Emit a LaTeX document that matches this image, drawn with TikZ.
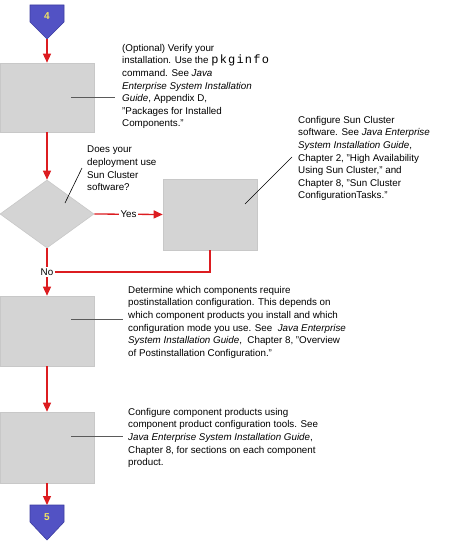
\documentclass[tikz,border=0pt]{standalone}
\usepackage{fontspec}
\setmainfont{Liberation Sans}
\setmonofont{Liberation Mono}
\usetikzlibrary{shapes.geometric,arrows.meta}
\definecolor{flowred}{RGB}{220,28,32}
\definecolor{boxgray}{RGB}{212,212,212}
\definecolor{boxedge}{RGB}{200,200,200}
\definecolor{penblue}{RGB}{82,82,196}
\definecolor{penedge}{RGB}{60,60,160}
\definecolor{numyellow}{RGB}{240,226,100}
\definecolor{leadgray}{RGB}{90,90,90}
\newcommand{\cmdname}[1]{{\fontsize{12}{12}\ttfamily\addfontfeature{LetterSpace=10}#1}}
\tikzset{
  flow/.style={draw=flowred, line width=1.3pt},
  flowarrow/.style={flow, -{Triangle[length=9pt,width=8pt]}},
  grbox/.style={draw=boxedge, fill=boxgray, line width=0.6pt, minimum width=94pt, inner sep=0pt},
  decision/.style={diamond, draw=boxedge, fill=boxgray, line width=0.6pt, minimum width=94pt, minimum height=68pt, inner sep=0pt},
  pent/.style={draw=penedge, fill=penblue, line width=0.6pt},
  num/.style={font=\fontsize{10}{12}\selectfont\bfseries, text=numyellow, inner sep=0pt},
  txt/.style={anchor=north west, align=left, inner sep=0pt, font=\fontsize{9.8}{12.6}\selectfont, execute at begin node=\strut},
  leader/.style={draw=leadgray, line width=0.8pt},
  dleader/.style={draw=black, line width=0.6pt},
  lbl/.style={fill=white, inner sep=1.5pt, font=\fontsize{9.8}{12}\selectfont}
}
\begin{document}
\begin{tikzpicture}[x=1pt,y=-1pt]
\useasboundingbox (0,0) rectangle (474,543);
% pentagon 4
\draw[pent] (30,5) -- (64,5) -- (64,22) -- (47,39) -- (30,22) -- cycle;
\node[num] (p4) at (47,16) {4};
\coordinate (p4tip) at (47,39);
% boxes
\node[grbox, minimum height=69pt] (b1) at (47,97.5) {};
\node[decision] (d) at (47,214) {};
\node[grbox, minimum height=71pt] (b2) at (210,214.5) {};
\node[grbox, minimum height=70pt] (b3) at (47,331) {};
\node[grbox, minimum height=71pt] (b4) at (47,447.5) {};
% pentagon 5
\draw[pent] (30,505) -- (64,505) -- (64,522) -- (47,540) -- (30,522) -- cycle;
\node[num] (p5) at (47,517) {5};
\coordinate (p5top) at (47,505);
% flow
\draw[flowarrow] (p4tip) -- (b1.north);
\draw[flowarrow] (b1.south) -- (d.north);
\draw[flowarrow] (d.east) -- node[lbl] (yes) {Yes} (b2.west);
\node[lbl] (no) at (47,272) {No};
\draw[flow] (d.south) -- (no.north);
\draw[flow] (no.east) -| (b2.south);
\draw[flowarrow] (no.south) -- (b3.north);
\draw[flowarrow] (b3.south) -- (b4.north);
\draw[flowarrow] (b4.south) -- (p5top);
% texts
\node[txt] (t1) at (122,44) {(Optional) Verify your\\installation. Use the \cmdname{pkginfo}\\command. See \textit{Java}\\\textit{Enterprise System Installation}\\\textit{Guide}, Appendix D,\\"Packages for Installed\\Components."};
\node[txt] (td) at (87,146) {Does your\\deployment use\\Sun Cluster\\software?};
\node[txt] (t2) at (298,116) {Configure Sun Cluster\\software. See \textit{Java Enterprise}\\\textit{System Installation Guide},\\Chapter 2, "High Availability\\Using Sun Cluster," and\\Chapter 8, "Sun Cluster\\ConfigurationTasks."};
\node[txt] (t3) at (128,286) {Determine which components require\\postinstallation configuration. This depends on\\which component products you install and which\\configuration mode you use. See \ \textit{Java Enterprise}\\\textit{System Installation Guide}, \ Chapter 8, "Overview\\of Postinstallation Configuration."};
\node[txt] (t4) at (128,408) {Configure component products using\\component product configuration tools. See\\\textit{Java Enterprise System Installation Guide},\\Chapter 8, for sections on each component\\product.};
% leaders
\coordinate (l1a) at (71,97);
\coordinate (l1b) at (115,97);
\draw[leader] (l1a) -- (l1b);
\coordinate (lda) at (65,203);
\coordinate (ldb) at (82,168);
\draw[dleader] (lda) -- (ldb);
\coordinate (l2a) at (245,204);
\coordinate (l2b) at (292,157);
\draw[dleader] (l2a) -- (l2b);
\coordinate (l3a) at (71,319);
\coordinate (l3b) at (123,319);
\draw[leader] (l3a) -- (l3b);
\coordinate (l4a) at (71,436);
\coordinate (l4b) at (123,436);
\draw[leader] (l4a) -- (l4b);
\end{tikzpicture}
\end{document}
